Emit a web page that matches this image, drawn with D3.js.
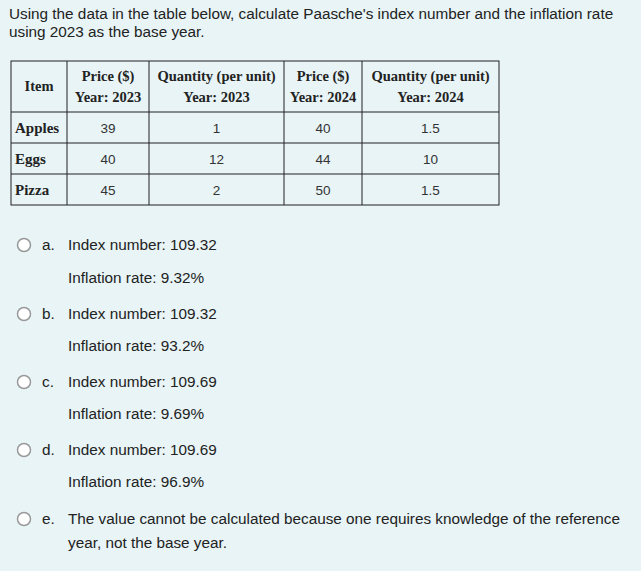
<!DOCTYPE html>
<html><head><meta charset="utf-8">
<script src="https://cdn.jsdelivr.net/npm/d3@7"></script>
<style>body{margin:0;background:#e8f4f6}</style>
</head><body>
<svg id="c" width="641" height="571"></svg>
<script>
let question=['Using the data in the table below, calculate Paasche\'s index number and the inflation rate','using 2023 as the base year.'];
let headers=[['Item'],['Price ($)','Year: 2023'],['Quantity (per unit)','Year: 2023'],['Price ($)','Year: 2024'],['Quantity (per unit)','Year: 2024']];
let items=['Apples','Eggs','Pizza'];
let price2023=['39','40','45'];
let qty2023=['1','12','2'];
let price2024=['40','44','50'];
let qty2024=['1.5','10','1.5'];
let letters=['a.','b.','c.','d.','e.'];
let answers=[
  ['Index number: 109.32','Inflation rate: 9.32%'],
  ['Index number: 109.32','Inflation rate: 93.2%'],
  ['Index number: 109.69','Inflation rate: 9.69%'],
  ['Index number: 109.69','Inflation rate: 96.9%'],
  ['The value cannot be calculated because one requires knowledge of the reference','year, not the base year.']
];

let svg=d3.select('#c');
let sans='"Liberation Sans", Arial, sans-serif';
let serif='"Liberation Serif", "Times New Roman", serif';

svg.selectAll('text.q').data(question).join('text').attr('class','q')
  .attr('x',9).attr('y',(d,i)=>19+i*18).attr('font-family',sans).attr('font-size',15.3)
  .attr('fill','#222').text(d=>d);

// table
let colEdges=[11,67,149,284,362,499];
let rowEdges=[61,112,143,174,205];
let x=d3.scaleOrdinal().domain(d3.range(5)).range(d3.range(5).map(i=>(colEdges[i]+colEdges[i+1])/2));
let rows=[price2023,qty2023,price2024,qty2024];
let t=svg.append('g');
t.append('rect').attr('x',11).attr('y',61).attr('width',488).attr('height',144)
  .attr('fill','none').attr('stroke','#222');
colEdges.slice(1,-1).forEach(c=>t.append('line').attr('x1',c).attr('x2',c).attr('y1',61).attr('y2',205).attr('stroke','#222'));
rowEdges.slice(1,-1).forEach(r=>t.append('line').attr('x1',11).attr('x2',499).attr('y1',r).attr('y2',r).attr('stroke','#222'));
headers.forEach((h,i)=>{
  let ys=h.length==1?[91]:[81,102];
  h.forEach((s,j)=>t.append('text').attr('x',x(i)).attr('y',ys[j]).attr('text-anchor','middle')
    .attr('font-family',serif).attr('font-weight','bold').attr('font-size',14.5).attr('fill','#222').text(s));
});
items.forEach((it,r)=>{
  let y=(rowEdges[r+1]+rowEdges[r+2])/2+5;
  t.append('text').attr('x',15).attr('y',y).attr('font-family',serif).attr('font-weight','bold')
    .attr('font-size',15).attr('fill','#222').text(it);
  rows.forEach((col,c)=>t.append('text').attr('x',x(c+1)).attr('y',y).attr('text-anchor','middle')
    .attr('font-family',sans).attr('font-size',13.5).attr('fill','#333').text(col[r]));
});

// options
let optY=[245,314,382,450,519];
let lineGap=[33,32,32,32,24];
let o=svg.selectAll('g.opt').data(answers).join('g').attr('class','opt');
o.append('circle').attr('cx',24).attr('cy',(d,i)=>optY[i]).attr('r',6.5)
  .attr('fill','#fff').attr('stroke','#999').attr('stroke-width',1.5);
o.append('text').attr('x',42).attr('y',(d,i)=>optY[i]+5).attr('font-family',sans).attr('font-size',15.3)
  .attr('fill','#222').text((d,i)=>letters[i]);
o.each(function(d,i){
  d3.select(this).selectAll('text.a').data(d).join('text').attr('class','a')
    .attr('x',68).attr('y',(s,j)=>optY[i]+5+j*lineGap[i]).attr('font-family',sans).attr('font-size',15.3)
    .attr('fill','#222').text(s=>s);
});
</script>
</body></html>
